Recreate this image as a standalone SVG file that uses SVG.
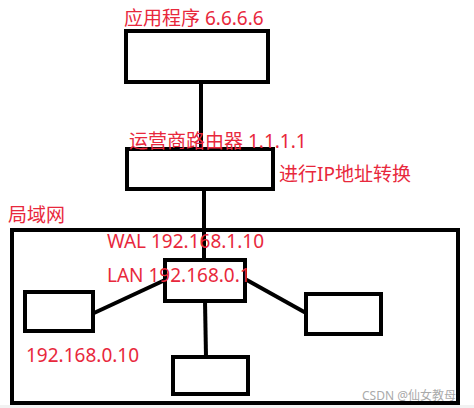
<svg xmlns="http://www.w3.org/2000/svg" width="474" height="408" viewBox="0 0 474 408">
<style>
.box{fill:#fff;stroke:#000;stroke-width:4}
.lan{fill:none;stroke:#000;stroke-width:4}
.ln{stroke:#000;stroke-width:4;fill:none}
.lbl{fill:#e8283c;font-family:"Noto Sans","Noto Sans CJK SC",sans-serif;font-size:19px}
.wm{fill:#aaa;font-family:"Noto Sans","Noto Sans CJK SC",sans-serif;font-size:12px}
</style>
<rect x="0" y="0" width="474" height="408" fill="#fff"/>
<rect x="0" y="405" width="474" height="3" fill="#f2f2f2"/>
<g id="lan-area">
<rect class="lan" x="12" y="230" width="446" height="173"/>
<text class="lbl" x="8" y="222">局域网</text>
</g>
<g id="connectors">
<line class="ln" x1="201" y1="82" x2="201" y2="148"/>
<line class="ln" x1="204" y1="189" x2="204" y2="260"/>
<line class="ln" x1="94" y1="313" x2="165" y2="280"/>
<line class="ln" x1="245" y1="279" x2="306" y2="313"/>
<line class="ln" x1="205" y1="301" x2="206" y2="357"/>
</g>
<g id="app">
<rect class="box" x="126" y="31" width="142" height="51"/>
<text class="lbl" x="124" y="25">应用程序 6.6.6.6</text>
</g>
<g id="isp-router">
<rect class="box" x="127" y="149" width="146" height="40"/>
<text class="lbl" x="129" y="148">运营商路由器 1.1.1.1</text>
<text class="lbl" x="279" y="181">进行IP地址转换</text>
</g>
<g id="home-router">
<rect class="box" x="165" y="260" width="80" height="41"/>
<text class="lbl" x="107" y="248">WAL 192.168.1.10</text>
<text class="lbl" x="107" y="282">LAN 192.168.0.1</text>
</g>
<g id="pc-left">
<rect class="box" x="25" y="292" width="68" height="39"/>
<text class="lbl" x="26" y="362">192.168.0.10</text>
</g>
<g id="pc-right">
<rect class="box" x="306" y="294" width="75" height="40"/>
</g>
<g id="pc-bottom">
<rect class="box" x="173" y="357" width="75" height="37"/>
</g>
<text class="wm" x="362" y="400">CSDN @仙女教母</text>
</svg>
